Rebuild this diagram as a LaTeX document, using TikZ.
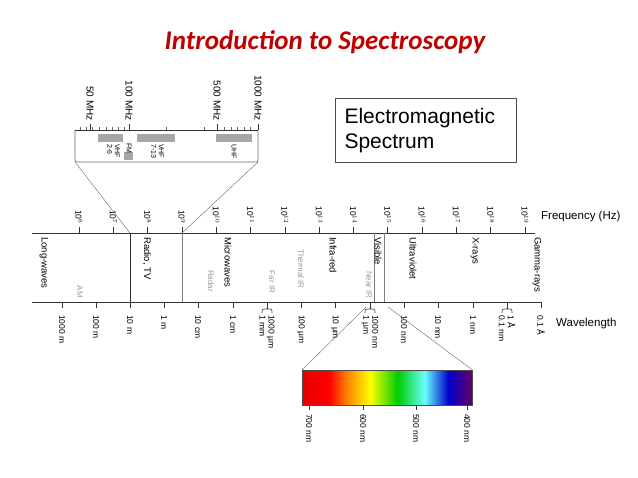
\documentclass[tikz,border=0pt]{standalone}
\usepackage{fontspec}
\setmainfont{Liberation Sans}
\newfontfamily\titlefont{Carlito}
\pgfdeclarehorizontalshading{vis}{100bp}{color(0bp)=(red!90!black);color(25bp)=(red!90!black);color(33bp)=(red);color(38bp)=(orange);color(45bp)=(yellow);color(53bp)=(green!80!black);color(61bp)=(cyan!60!white);color(68bp)=(blue!80!black);color(75bp)=(violet!80!black);color(100bp)=(violet!80!black)}
\begin{document}
\begin{tikzpicture}[x=1pt,y=-1pt,
  lab/.style={font=\fontsize{8.5}{9}\selectfont,inner sep=1pt},
  glab/.style={lab,font=\fontsize{8}{9}\selectfont,text=black!40},
  ax/.style={line width=0.8pt,black!80},
  tk/.style={line width=0.6pt,black!80}]
\useasboundingbox (0,0) rectangle (638,478);
\node (title) at (325,42) {\titlefont\bfseries\itshape\fontsize{27}{30}\selectfont\color{red!75!black}Introduction to Spectroscopy};
\node[draw=black!70,minimum width=181pt,minimum height=64pt,anchor=north west,inner sep=0pt] (em) at (335,98) {};
\node[align=left,anchor=west,font=\fontsize{21}{25}\selectfont] (emt) at (341,131) {Electromagnetic\\Spectrum};
% axes
\coordinate (fa) at (32,233); \coordinate (fb) at (535,233);
\coordinate (wa) at (32,302); \coordinate (wb) at (541,302);
\draw[ax] (fa) -- (fb);
\draw[ax] (wa) -- (wb);
\foreach \e [count=\i from 0] in {6,...,19}{
  \pgfmathsetmacro\xx{79+34.3*\i}
  \draw[tk] (\xx,233) -- (\xx,227);
  \node[lab,rotate=-90,anchor=east] at (\xx,225) {10$^{\e}$};
}
\node[font=\fontsize{11.5}{13}\selectfont,anchor=west,inner sep=1pt] (fq) at (540,217) {Frequency (Hz)};
\node[font=\fontsize{11.5}{13}\selectfont,anchor=west,inner sep=1pt] (wl) at (555,324) {Wavelength};
% wavelength ticks
\foreach \x/\t in {62/1000 m,96/100 m,130/10 m,164/1 m,198/10 cm,233/1 cm,301/100 µm,335/10 µm,404/100 nm,438/10 nm,473/1 nm,541/0.1 Å}{
  \draw[tk] (\x,302) -- (\x,308);
  \node[lab,rotate=-90,anchor=west] at (\x,314) {\t};
}
\foreach \x/\ta/\tb in {267/1000 µm/1 mm,370/1000 nm/1 µm,507/1 Å/0.1 nm}{
  \draw[tk] (\x,302) -- (\x,309);
  \draw[tk] (\x-5,313) .. controls (\x-5,309) .. (\x,309) .. controls (\x+5,309) .. (\x+5,313);
  \node[lab,rotate=-90,anchor=west,align=left] at (\x,314) {\ta\\\tb};
}
% dividers
\draw[line width=0.8pt,black!80] (130,233) -- (130,302);
\draw[line width=0.7pt,black!50] (182,233) -- (182,302);
\draw[line width=0.7pt,black!50] (374,233) -- (374,302);
\draw[line width=0.7pt,black!50] (384,233) -- (384,302);
% region labels
\foreach \x/\t in {44/Long-waves,147/{Radio, TV},228/Microwaves,333/Infra-red,378/Visible,413/Ultraviolet,475/X-rays,537/Gamma-rays}{
  \node[font=\fontsize{9.5}{10}\selectfont,inner sep=1pt,rotate=-90,anchor=west] at (\x,236) {\t};
}
\node[glab,rotate=-90] at (80,292) {AM};
\node[glab,rotate=-90] at (211,281) {Radar};
\node[glab,rotate=-90] at (272,282) {Far IR};
\node[glab,rotate=-90] at (301,269) {Thermal IR};
\node[glab,rotate=-90] at (369,285) {Near IR};
% inset
\coordinate (ia) at (75,130); \coordinate (ib) at (258,130);
\draw[line width=0.6pt,black!60] (ia) -- (75,159) .. controls (75,162) .. (78,162) -- (255,162) .. controls (258,162) .. (258,159) -- (ib);
\draw[tk] (ia) -- (ib);
\foreach \x in {80,86,92,99,106,112,118,124,129,166,204,217,224,231,237,244,250,258}{\draw[tk,black!60] (\x,130) -- (\x,127);}
\foreach \x/\t in {90/50 MHz,129/100 MHz,217/500 MHz,258/1000 MHz}{
  \draw[tk] (\x,130) -- (\x,124);
  \node[font=\fontsize{10}{11}\selectfont,inner sep=1pt,rotate=-90,anchor=east] at (\x,122) {\t};
}
\fill[black!35] (98,134) rectangle (123,142);
\fill[black!35] (124,152) rectangle (133,160);
\fill[black!35] (137,134) rectangle (175,142);
\fill[black!35] (216,134) rectangle (252,142);
\node[font=\fontsize{7}{7.5}\selectfont,inner sep=1pt,rotate=-90,anchor=north west,align=left] at (121,143) {VHF\\2-6};
\node[font=\fontsize{7}{7.5}\selectfont,inner sep=1pt,rotate=-90,anchor=west] at (129,142) {FM};
\node[font=\fontsize{7}{7.5}\selectfont,inner sep=1pt,rotate=-90,anchor=north west,align=left] at (165,143) {VHF\\7-13};
\node[font=\fontsize{7}{7.5}\selectfont,inner sep=1pt,rotate=-90,anchor=west] at (234,143) {UHF};
\draw[black!60] (75,162) -- (130,233);
\draw[black!60] (258,162) -- (182,233);
% visible bar
\node[shading=vis,draw=black!70,minimum width=170pt,minimum height=35pt,inner sep=0pt,anchor=north west] (vb) at (302,370) {};
\draw[black!60] (366,307) -- (vb.north west);
\draw[black!60] (388,307) -- (vb.north east);
\foreach \x/\t in {309/700 nm,363/600 nm,416/500 nm,467/400 nm}{
  \draw[tk] (\x,405) -- (\x,410);
  \node[lab,rotate=-90,anchor=west] at (\x,413) {\t};
}
\end{tikzpicture}
\end{document}
